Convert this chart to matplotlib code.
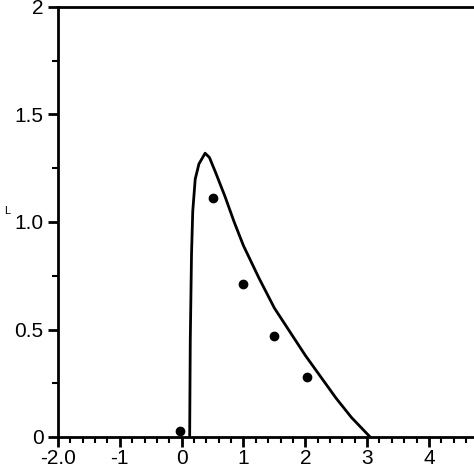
import matplotlib
matplotlib.use("Agg")
import matplotlib.pyplot as plt
from matplotlib.ticker import MultipleLocator, FixedLocator

plt.rcParams['font.family'] = ['Liberation Sans', 'DejaVu Sans']

# model curve
curve_x = [0.13, 0.14, 0.16, 0.18, 0.22, 0.28, 0.38, 0.45, 0.55, 0.7, 0.85, 1.0, 1.25, 1.5, 1.75, 2.0, 2.25, 2.5, 2.75, 3.05]
curve_y = [0.0, 0.45, 0.85, 1.05, 1.2, 1.27, 1.32, 1.3, 1.23, 1.12, 1.0, 0.89, 0.74, 0.6, 0.49, 0.38, 0.28, 0.18, 0.09, 0.0]

# measured points
pts_x = [-0.02, 0.5, 1.0, 1.5, 2.03]
pts_y = [0.03, 1.11, 0.71, 0.47, 0.28]

fig = plt.figure(figsize=(4.74, 4.74), dpi=100)
ax = fig.add_axes([58/474, 37/474, 1 - 58/474, (437 - 7)/474])

ax.plot(curve_x, curve_y, color='black', lw=2)
ax.plot(pts_x, pts_y, 'o', color='black', ms=6)

ax.set_xlim(-2.0, 4.73)
ax.set_ylim(0, 2)
ax.spines['right'].set_visible(False)
for s in ['left', 'bottom', 'top']:
    ax.spines[s].set_linewidth(2)

ax.xaxis.set_major_locator(FixedLocator([-2, -1, 0, 1, 2, 3, 4]))
ax.set_xticklabels(['-2.0', '-1', '0', '1', '2', '3', '4'])
ax.xaxis.set_minor_locator(MultipleLocator(0.2))
ax.yaxis.set_major_locator(FixedLocator([0, 0.5, 1.0, 1.5, 2]))
ax.set_yticklabels(['0', '0.5', '1.0', '1.5', '2'])
ax.yaxis.set_minor_locator(MultipleLocator(0.25))

ax.tick_params(which='major', direction='out', length=7, width=2, labelsize=15, color='black')
ax.tick_params(which='minor', direction='out', length=4, width=1.5)
ax.tick_params(axis='x', pad=2)

fig.text(0.008, 0.555, 'L', fontsize=8, ha='left', va='center')

fig.savefig('out.png', dpi=100)
